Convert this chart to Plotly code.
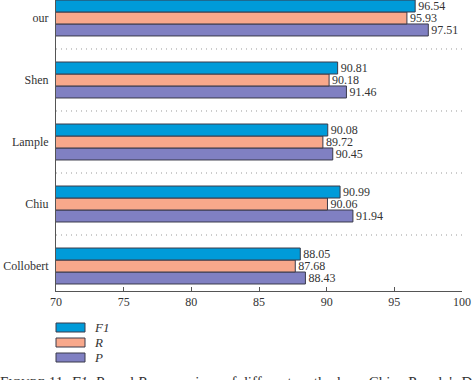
import plotly.graph_objects as go

methods = ["Collobert", "Chiu", "Lample", "Shen", "our"]
f1_vals = [88.05, 90.99, 90.08, 90.81, 96.54]
r_vals = [87.68, 90.06, 89.72, 90.18, 95.93]
p_vals = [88.43, 91.94, 90.45, 91.46, 97.51]
x_ticks = [70, 75, 80, 85, 90, 95, 100]

series = [("P", p_vals, "#8080C2"), ("R", r_vals, "#F8A88B"), ("F1", f1_vals, "#009BD9")]

W, H = 474, 380
ML, MR, MT, MB = 56, 12, 0, 89
PH = H - MT - MB
FONT = "Liberation Serif"

fig = go.Figure()
for name, vals, color in series:
    fig.add_trace(go.Bar(
        y=methods, x=vals, orientation="h", name=name,
        marker=dict(color=color, line=dict(color="#3a3a4a", width=1)),
        text=[f"{v:.2f}" for v in vals], textposition="outside",
        constraintext="none", cliponaxis=False,
        textfont=dict(family=FONT, size=12, color="#333333"),
        showlegend=False, hoverinfo="skip",
    ))

shapes = []
# dotted separators between method groups
for i in range(len(methods) - 1):
    shapes.append(dict(type="line", xref="paper", x0=0, x1=1, yref="y",
                       y0=i + 0.5, y1=i + 0.5,
                       line=dict(color="#9a9a9a", width=1, dash="1px,4px")))

def py(pix):
    return (MT + PH - pix) / PH

def px(pix):
    return (pix - ML) / (W - ML - MR)

annotations = []
legend_rows = [("F1", "#009BD9", 323), ("R", "#F8A88B", 338), ("P", "#8080C2", 353)]
for name, color, top in legend_rows:
    shapes.append(dict(type="rect", xref="paper", yref="paper",
                       x0=px(56), x1=px(85), y0=py(top), y1=py(top + 9),
                       fillcolor=color, line=dict(color="#3a3a4a", width=1)))
    annotations.append(dict(xref="paper", yref="paper", x=px(92), y=py(top + 4.5),
                            text=f"<i>{name}</i>", showarrow=False, xanchor="left",
                            yanchor="middle", font=dict(family=FONT, size=13, color="#333333")))

annotations.append(dict(xref="paper", yref="paper", x=px(-2), y=py(372),
                        text="F<span style='font-size:12px'>IGURE</span> 11: <i>F1</i>, <i>R</i>, and <i>P</i> comparison of different methods on China People's Daily corpus",
                        showarrow=False, xanchor="left", yanchor="top",
                        font=dict(family=FONT, size=15, color="#333333")))

fig.update_layout(
    width=W, height=H,
    margin=dict(l=ML, r=MR, t=MT, b=MB),
    paper_bgcolor="white", plot_bgcolor="white",
    barmode="group", bargap=0.42, bargroupgap=0,
    shapes=shapes, annotations=annotations,
    font=dict(family=FONT, size=12, color="#333333"),
    xaxis=dict(range=[70, 100], tickvals=x_ticks, showgrid=False, zeroline=False,
               automargin=False,
               showline=True, linecolor="#555555", linewidth=1,
               ticks="inside", ticklen=4, tickcolor="#555555",
               tickfont=dict(family=FONT, size=12, color="#333333")),
    yaxis=dict(categoryorder="array", categoryarray=methods,
               range=[-0.403, 4.29], showgrid=False, zeroline=False,
               automargin=False,
               showline=True, linecolor="#555555", linewidth=1, ticks="",
               ticklabelstandoff=4,
               tickfont=dict(family=FONT, size=12, color="#333333")),
)

fig.write_html("out.html", config={"displayModeBar": False},
               post_script="document.body.style.margin='0px';")
